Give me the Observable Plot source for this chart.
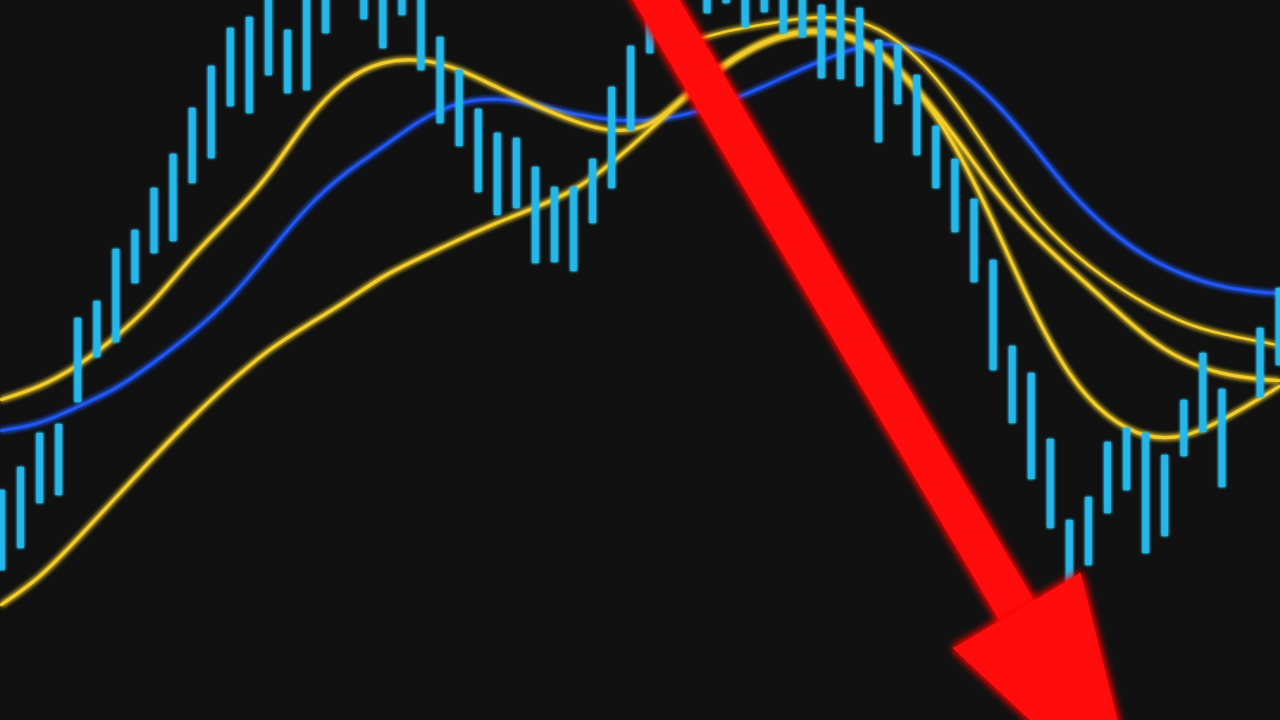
<!DOCTYPE html>
<html>
<head>
<meta charset="utf-8">
<script src="https://cdn.jsdelivr.net/npm/d3@7"></script>
<script src="https://cdn.jsdelivr.net/npm/@observablehq/plot@0.6"></script>
<style>
  html, body { margin: 0; padding: 0; background: #111111; overflow: hidden; }
  #chart svg { display: block; overflow: hidden; }
</style>
</head>
<body>
<div id="chart"></div>
<script>
// ---- Price bars (bar index, high, low) ----
const barIndex = [0,1,2,3,4,5,6,7,8,9,10,11,12,13,14,15,16,17,19,20,21,22,23,24,25,26,27,28,29,30,31,32,33,34,35,37,38,39,40,41,42,43,44,45,46,47,48,49,50,51,52,53,54,55,56,57,58,59,60,61,62,63,64,66,67];
const barHigh  = [123.0,125.3,128.7,129.6,140.2,141.9,147.1,149.0,153.2,156.6,161.2,165.4,169.2,170.3,173.5,169.0,173.0,175.0,176.0,174.5,176.5,172.5,168.3,165.0,161.1,158.7,158.2,155.3,153.3,153.3,156.1,163.3,167.4,173.0,175.0,175.0,176.0,174.0,175.5,174.0,174.0,171.5,173.0,171.2,168.0,167.5,164.5,159.4,156.1,152.1,146.0,137.4,134.7,128.1,120.0,122.3,127.8,129.2,128.7,126.5,132.0,136.7,133.1,139.2,143.2];
const barLow   = [115.0,117.2,121.7,122.5,131.8,136.3,137.8,143.7,146.7,147.9,153.7,156.2,161.4,160.7,164.5,162.7,163.0,168.7,170.1,167.2,170.5,165.0,159.7,157.4,152.8,150.5,151.2,145.7,145.8,144.9,149.7,153.2,159.0,166.7,170.8,170.7,171.7,169.3,170.8,168.7,168.3,164.2,164.1,163.4,157.8,161.6,156.5,153.2,148.8,143.8,135.0,129.7,124.1,119.2,111.8,115.5,120.7,123.0,116.7,118.4,126.4,128.8,123.3,132.3,135.5];

// ---- Moving averages (sampled every second bar) ----
const maIndex = [0,2,4,6,8,10,12,14,16,18,20,22,24,26,28,30,32,34,36,38,40,42,44,46,48,50,52,54,56,58,60,62,64,66,67];
const maYellowFast = [132.1,133.3,135.4,138.3,141.8,146.5,150.3,154.3,160.2,164.2,166.0,166.2,165.2,163.3,161.5,159.9,158.8,159.2,162.7,165.7,167.9,169.0,168.8,167.0,163.2,158.5,153.0,148.7,145.2,141.8,138.3,135.9,134.6,134.1,134.0];
const maYellowSlow = [111.6,114.2,118.2,122.3,126.4,130.3,133.9,137.1,139.5,141.8,144.5,146.3,148.1,149.8,151.3,152.9,155.7,159.0,162.8,165.8,168.0,169.1,168.9,167.2,163.3,157.7,150.0,141.3,134.2,130.2,128.2,128.2,130.0,132.2,133.4];
const maBlue       = [129.0,129.6,131.4,133.1,135.8,138.7,142.1,146.7,151.4,154.8,157.3,160.2,161.9,162.3,161.6,160.6,160.0,159.9,160.6,161.8,163.4,165.2,166.8,167.9,167.3,165.4,162.2,157.7,152.8,149.1,146.3,144.5,143.3,142.8,142.7];
const maTopIndex   = [36,38,40,42,44,46,48,50,52,54,56,58,60,62,64,66,67];
const maYellowTop  = [167.8,169.0,169.6,170.3,170.4,169.4,166.5,162.0,156.2,150.8,147.0,144.0,141.6,139.7,138.6,137.9,137.5];

// ---- Arrow annotation (from / to in bar index & price) ----
const arrowFrom = {t: 32.8, price: 177.0};
const arrowTo   = {t: 59.8, price: 89.8};

// ---- Build tables ----
const bars = barIndex.map((t, i) => ({t, high: barHigh[i], low: barLow[i]}));
const lineFast = maIndex.map((t, i) => ({t, v: maYellowFast[i]}));
const lineSlow = maIndex.map((t, i) => ({t, v: maYellowSlow[i]}));
const lineBlue = maIndex.map((t, i) => ({t, v: maBlue[i]}));
const lineTop  = maTopIndex.map((t, i) => ({t, v: maYellowTop[i]}));

const W = 1280, H = 720;
const xDomain = [-0.052, 67.07];
const yDomain = [100, 172];

const xs = Plot.scale({x: {type: "linear", domain: xDomain, range: [0, W]}});
const ys = Plot.scale({y: {type: "linear", domain: yDomain, range: [H, 0]}});
const x0 = xs.apply(arrowFrom.t), y0 = ys.apply(arrowFrom.price);
const x1 = xs.apply(arrowTo.t),   y1 = ys.apply(arrowTo.price);
const L = Math.hypot(x1 - x0, y1 - y0);
const ux = (x1 - x0) / L, uy = (y1 - y0) / L;
const headLen = 246, headHalf = 73;
const bx = x1 - ux * headLen, by = y1 - uy * headLen;
const nx = -uy, ny = ux;
const inv = (x, y) => ({t: xs.invert(x), price: ys.invert(y)});
const shaft = [inv(x0, y0), inv(bx + ux * 12, by + uy * 12)];
const head = [inv(bx + nx * headHalf, by + ny * headHalf), inv(x1, y1), inv(bx - nx * headHalf, by - ny * headHalf)];

const YELLOW = "#f2cd2a", BLUE = "#2257f2", CYAN = "#25b7ea", RED = "#ff0c0c";

// mark order matters: filters are assigned by it below
const marks = [
  Plot.line(lineBlue, {x: "t", y: "v", stroke: BLUE, strokeWidth: 3, curve: "basis"}),
  Plot.line(lineTop,  {x: "t", y: "v", stroke: YELLOW, strokeWidth: 2.6, curve: "basis"}),
  Plot.line(lineSlow, {x: "t", y: "v", stroke: YELLOW, strokeWidth: 3.2, curve: "basis"}),
  Plot.line(lineFast, {x: "t", y: "v", stroke: YELLOW, strokeWidth: 3.2, curve: "basis"}),
  Plot.ruleX(bars, {x: "t", y1: "low", y2: "high", stroke: CYAN, strokeWidth: 6.5}),
  Plot.line(shaft, {x: "t", y: "price", stroke: RED, strokeWidth: 40, strokeLinecap: "butt"}),
  Plot.line(head, {x: "t", y: "price", fill: RED, stroke: RED, strokeWidth: 2, strokeLinejoin: "miter"})
];
const markFilters = ["glowB", "glowY", "glowY", "glowY", "glowC", "glowR", "glowR"];

const chart = Plot.plot({
  width: W,
  height: H,
  margin: 0,
  x: {domain: xDomain, axis: null},
  y: {domain: yDomain, axis: null},
  style: {background: "#111111"},
  marks
});

// glow filters
const ns = "http://www.w3.org/2000/svg";
const defs = document.createElementNS(ns, "defs");
function makeFilter(id, sd) {
  const f = document.createElementNS(ns, "filter");
  f.setAttribute("id", id);
  f.setAttribute("filterUnits", "userSpaceOnUse");
  f.setAttribute("x", -100); f.setAttribute("y", -100);
  f.setAttribute("width", 1480); f.setAttribute("height", 920);
  const blur = document.createElementNS(ns, "feGaussianBlur");
  blur.setAttribute("in", "SourceGraphic");
  blur.setAttribute("stdDeviation", sd);
  blur.setAttribute("result", "b");
  const merge = document.createElementNS(ns, "feMerge");
  ["b", "b", "SourceGraphic"].forEach(k => {
    const n = document.createElementNS(ns, "feMergeNode");
    n.setAttribute("in", k);
    merge.appendChild(n);
  });
  f.appendChild(blur); f.appendChild(merge);
  defs.appendChild(f);
}
makeFilter("glowY", 2.5); makeFilter("glowB", 2.5); makeFilter("glowC", 1.5); makeFilter("glowR", 5);
chart.insertBefore(defs, chart.firstChild);
const groups = Array.from(chart.children).filter(el => el.tagName.toLowerCase() === "g");
groups.forEach((g, i) => { if (markFilters[i]) g.setAttribute("filter", `url(#${markFilters[i]})`); });

document.getElementById("chart").appendChild(chart);
</script>
</body>
</html>
